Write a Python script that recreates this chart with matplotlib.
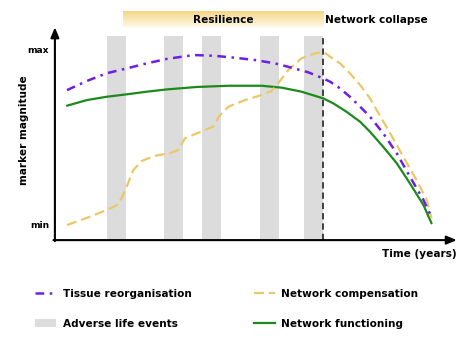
import numpy as np
import matplotlib
matplotlib.use("Agg")
import matplotlib.pyplot as plt
from matplotlib.colors import LinearSegmentedColormap
from matplotlib.patches import Patch
from matplotlib.lines import Line2D

# ---------------- DATA (time 0-100, magnitude 0-100) ----------------
t_tissue = [0, 5.4, 10.8, 16.3, 21.8, 27.2, 32.7, 35.4, 40.4, 45.9, 51.4,
            56.8, 61.4, 65.9, 70.0, 71.9, 74.6, 77.3, 80.1, 82.8, 86.4,
            90.1, 93.7, 97.4, 99.7]
m_tissue = [77.1, 82.3, 86.7, 89.5, 92.4, 94.9, 96.6, 97.1, 96.7, 95.6, 94.3,
            92.4, 89.9, 87.3, 83.8, 81.9, 78.1, 73.3, 67.6, 61.9, 52.4,
            41.0, 27.6, 14.3, 4.0]

t_func = [0, 5.4, 10.8, 16.3, 21.8, 27.2, 35.4, 44.1, 53.2, 58.7, 64.1,
          70.0, 72.8, 76.4, 80.1, 82.8, 86.4, 90.1, 93.7, 97.4, 99.6]
m_func = [68.2, 71.4, 73.3, 74.7, 76.2, 77.5, 78.9, 79.6, 79.6, 78.5, 76.2,
          72.4, 69.5, 64.7, 59.0, 53.3, 44.7, 35.3, 23.8, 11.4, 1.0]

t_comp = [0, 5.8, 11.3, 13.6, 14.9, 16.3, 18.1, 20.4, 24.0, 28.1, 30.4,
          32.2, 35.0, 39.9, 41.8, 44.1, 48.6, 53.2, 55.9, 57.7, 60.5, 64.1,
          67.8, 70.0, 71.9, 74.6, 77.3, 80.1, 82.8, 84.6, 88.3, 91.9, 95.5,
          98.3, 99.6]
m_comp = [0, 4.4, 9.0, 11.4, 15.3, 21.9, 31.4, 36.6, 39.6, 41.0, 42.9,
          49.5, 52.0, 56.2, 62.9, 67.6, 71.4, 74.3, 76.6, 81.0, 88.6, 95.3,
          98.1, 99.0, 96.2, 92.4, 86.7, 80.0, 72.4, 65.7, 52.4, 39.0, 25.7,
          14.3, 3.8]

# adverse life events (start, end)
events = [(10.9, 16.1), (26.5, 31.7), (36.9, 42.1), (52.7, 57.9), (64.8, 70.0)]
resilience = (15.3, 70.0)
collapse_t = 70.0

C_PURPLE = "#6e1ee6"
C_GREEN = "#1b8a1b"
C_YELLOW = "#ebc866"
C_GRAY = "#dcdcdc"
FS = 7.6

# ---------------- FIGURE ----------------
fig = plt.figure(figsize=(4.74, 3.53), dpi=100)
ax = fig.add_axes([0, 0, 1, 1])
ax.set_xlim(-18.3, 111.2)
ax.set_ylim(-73.1, 128.6)
ax.axis("off")

y_axis = -8.6
x_axis = -3.3

for s, e in events:
    ax.fill_between([s, e], y_axis, 108, color=C_GRAY, lw=0, zorder=1)

# resilience band with gradient
grad = np.linspace(0, 1, 100).reshape(-1, 1)
cmap = LinearSegmentedColormap.from_list("band", ["#fef8e6", "#f5d685"])
ax.imshow(grad, extent=[resilience[0], resilience[1], 113.1, 121.7], origin="lower",
          cmap=cmap, aspect="auto", zorder=1)
ax.text(sum(resilience) / 2, 117.4, "Resilience", ha="center", va="center",
        fontsize=FS, fontweight="bold")
ax.text(collapse_t + 0.6, 117.4, "Network collapse", ha="left", va="center",
        fontsize=FS, fontweight="bold")

ax.plot([collapse_t, collapse_t], [y_axis, 108], color="#333333", lw=1.3,
        dashes=(3.5, 2.2), zorder=2)

ax.plot(t_func, m_func, color=C_GREEN, lw=1.6, zorder=3,
        solid_joinstyle="round", solid_capstyle="round")
ax.plot(t_comp, m_comp, color=C_YELLOW, lw=1.6, dashes=(4.5, 2.2), zorder=3,
        dash_joinstyle="round")
ax.plot(t_tissue, m_tissue, color=C_PURPLE, lw=1.8, dashes=(3.5, 2.2, 1, 2.2),
        zorder=4, dash_joinstyle="round")

# axes arrows
ax.annotate("", xy=(x_axis, 113), xytext=(x_axis, y_axis - 0.6),
            arrowprops=dict(arrowstyle="-|>,head_width=0.25,head_length=0.6",
                            color="black", lw=1.5, shrinkA=0, shrinkB=0))
ax.annotate("", xy=(106.5, y_axis), xytext=(x_axis - 0.4, y_axis),
            arrowprops=dict(arrowstyle="-|>,head_width=0.25,head_length=0.6",
                            color="black", lw=1.5, shrinkA=0, shrinkB=0))

ax.text(x_axis - 1.6, 100, "max", ha="right", va="center", fontsize=6.6, fontweight="bold")
ax.text(x_axis - 1.6, 0, "min", ha="right", va="center", fontsize=6.6, fontweight="bold")
ax.text(-11.7, 54, "marker magnitude", rotation=90, ha="center", va="center",
        fontsize=FS, fontweight="bold")
ax.text(106.5, -16.5, "Time (years)", ha="right", va="center",
        fontsize=FS, fontweight="bold")

handles = [
    Line2D([], [], color=C_PURPLE, lw=1.8, dashes=(3.5, 2.2, 1, 2.2)),
    Patch(facecolor=C_GRAY, edgecolor="none"),
    Line2D([], [], color=C_YELLOW, lw=1.6, dashes=(4.5, 2.2)),
    Line2D([], [], color=C_GREEN, lw=1.6),
]
labels = ["Tissue reorganisation", "Adverse life events",
          "Network compensation", "Network functioning"]
fig.legend(handles, labels, ncol=2, loc="center left", bbox_to_anchor=(0.074, 0.125),
           frameon=False, prop=dict(size=FS, weight="bold"), borderpad=0,
           borderaxespad=0, handlelength=2.0, columnspacing=5.9,
           labelspacing=1.85, handletextpad=0.6)

fig.savefig("out.png", dpi=100)
